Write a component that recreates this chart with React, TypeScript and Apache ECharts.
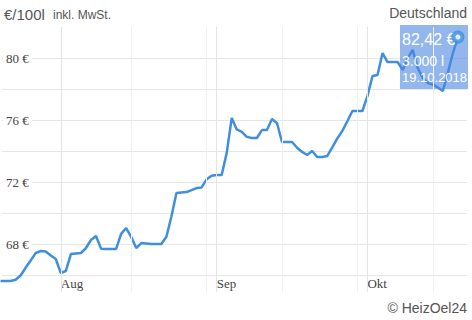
import React, { useEffect, useRef } from "react";
import * as echarts from "echarts";

// Day index 0 = 01.08.2018; first value = 20.07.2018, last = 19.10.2018
const startDay = -12;
const prices = [
  65.61, 65.61, 65.61, 65.69, 65.97, 66.47, 66.93, 67.42, 67.55, 67.52, 67.26, 67.03,
  66.13, 66.26, 67.35, 67.39, 67.42, 67.74, 68.26, 68.52, 67.7, 67.68, 67.68, 67.68,
  68.65, 69.03, 68.46, 67.74, 68.06, 68.03, 68.0, 68.0, 68.0, 68.47, 69.77, 71.29,
  71.32, 71.35, 71.48, 71.61, 71.65, 72.17, 72.41, 72.45, 72.45, 73.88, 76.13, 75.39,
  75.23, 74.91, 74.84, 74.84, 75.35, 75.35, 76.06, 75.81, 74.58, 74.58, 74.58, 74.21,
  73.94, 73.74, 74.0, 73.61, 73.61, 73.68, 74.23, 74.81, 75.3, 75.92, 76.58, 76.58,
  76.58, 77.56, 78.84, 78.9, 80.32, 79.74, 79.74, 79.74, 79.23, 79.97, 80.52, 79.35,
  78.71, 78.39, 78.29, 78.1, 77.87, 79.06, 80.32, 81.35,
];
const monthTicks = [0, 31, 61];
const monthLabels = ["Aug", "Sep", "Okt"];
const halfMonthLines = [14, 29, 44, 59, 74];
const yLabelValues = [68, 72, 76, 80];
const unitTitle = "€/100l";
const unitNote = "inkl. MwSt.";
const regionTitle = "Deutschland";
const copyright = "© HeizOel24";
const lastPriceText = "82,42 €";
const lastAmountText = "3.000 l";
const lastDateText = "19.10.2018";

const BLUE = "#3f8fdd";
const SANS = '"Liberation Sans", Arial, sans-serif';
const SERIF = '"Liberation Serif", "Times New Roman", serif';

export default function App() {
  const ref = useRef<HTMLDivElement>(null);
  useEffect(() => {
    const chart = echarts.init(ref.current!, null, { renderer: "svg" });
    const data = prices.map((v, i) => [startDay + i, v]);
    const last = data[data.length - 1];
    const vLine = (d: number) => [{ coord: [d, 64.9] }, { coord: [d, 82] }];
    chart.setOption({
      animation: false,
      grid: { left: 0, right: 5, top: 27, bottom: 14 },
      xAxis: {
        type: "value",
        min: -11.7,
        max: 80.8,
        axisLine: { show: false },
        axisTick: { show: false },
        splitLine: { show: false },
        axisLabel: {
          inside: true,
          customValues: monthTicks,
          formatter: (v: number) => monthLabels[monthTicks.indexOf(v)] ?? "",
          align: "left",
          margin: 16,
          fontFamily: SERIF,
          fontSize: 13,
          color: "#444",
        },
      },
      yAxis: {
        type: "value",
        min: 64,
        max: 82,
        interval: 2,
        axisLine: { show: false },
        axisTick: { show: false },
        splitLine: {
          show: true,
          showMinLine: false,
          showMaxLine: false,
          lineStyle: { color: "#e6e6e6", width: 1 },
        },
        axisLabel: {
          inside: true,
          customValues: yLabelValues,
          formatter: (v: number) => `${v} €`,
          margin: 1,
          padding: [1, 3, 1, 3],
          backgroundColor: "#fff",
          fontFamily: SERIF,
          fontSize: 13,
          color: "#444",
        },
      },
      series: [
        {
          type: "line",
          data: [],
          z: 1,
          silent: true,
          markLine: {
            silent: true,
            symbol: "none",
            label: { show: false },
            lineStyle: { color: "#f0f0f0", type: "solid", width: 1 },
            data: halfMonthLines.map(vLine),
          },
        },
        {
          type: "line",
          data: [],
          z: 1,
          silent: true,
          markLine: {
            silent: true,
            symbol: "none",
            label: { show: false },
            lineStyle: { color: "#e4e4e4", type: "solid", width: 1 },
            data: monthTicks.map(vLine),
          },
        },
        {
          type: "line",
          data,
          z: 2,
          showSymbol: false,
          symbol: "none",
          lineStyle: { color: BLUE, width: 2.5 },
        },
        {
          type: "scatter",
          data: [last],
          z: 10,
          symbol: "circle",
          symbolSize: 9,
          itemStyle: { color: "#fff", borderColor: BLUE, borderWidth: 4 },
        },
      ],
      graphic: [
        {
          type: "text",
          x: 4,
          y: 14,
          style: { text: unitTitle, font: `15px ${SANS}`, fill: "#555", verticalAlign: "middle" },
        },
        {
          type: "text",
          x: 53,
          y: 15,
          style: { text: unitNote, font: `12px ${SANS}`, fill: "#555", verticalAlign: "middle" },
        },
        {
          type: "text",
          x: 467,
          y: 13,
          style: { text: regionTitle, font: `14px ${SANS}`, fill: "#555", align: "right", verticalAlign: "middle" },
        },
        {
          type: "text",
          x: 467,
          y: 308,
          style: { text: copyright, font: `14px ${SANS}`, fill: "#555", align: "right", verticalAlign: "middle" },
        },
        {
          type: "rect",
          z: 5,
          shape: { x: 400, y: 25, width: 68, height: 64 },
          style: { fill: "rgba(75,135,225,0.6)" },
        },
        {
          type: "text",
          z: 6,
          x: 402,
          y: 39,
          style: { text: lastPriceText, font: `16px ${SANS}`, fill: "#fff", verticalAlign: "middle" },
        },
        {
          type: "text",
          z: 6,
          x: 402,
          y: 61,
          style: { text: lastAmountText, font: `14px ${SANS}`, fill: "#fff", verticalAlign: "middle" },
        },
        {
          type: "text",
          z: 6,
          x: 402,
          y: 77,
          style: { text: lastDateText, font: `13px ${SANS}`, fill: "#fff", verticalAlign: "middle" },
        },
      ],
    });
    return () => chart.dispose();
  }, []);
  return (
    <div
      ref={ref}
      style={{ position: "fixed", left: 0, top: 0, width: 472, height: 320, background: "#fff" }}
    />
  );
}
